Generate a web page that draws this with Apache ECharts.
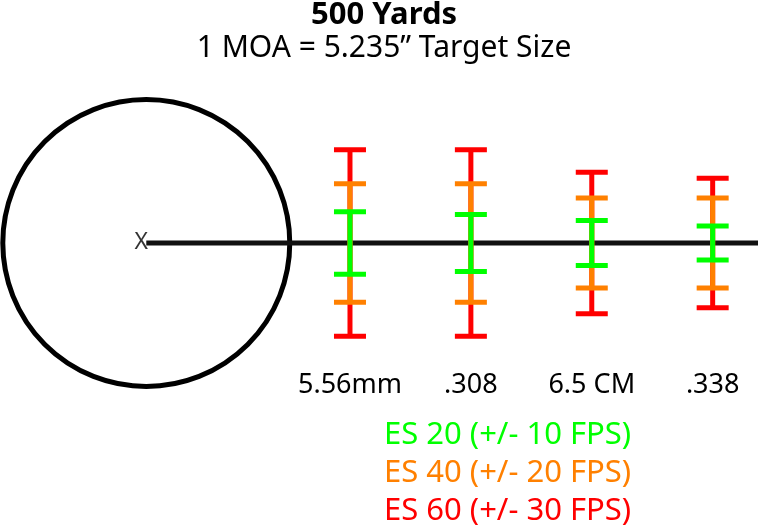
<!DOCTYPE html>
<html>
<head>
<meta charset="utf-8">
<script src="https://cdn.jsdelivr.net/npm/echarts@6/dist/echarts.min.js"></script>
<style>html,body{margin:0;padding:0;background:#fff;}#c{width:768px;height:531px;}</style>
</head>
<body>
<div id="c"></div>
<script>
// ---- data ----
var titleText = '500 Yards';
var subText = '1 MOA = 5.235\u201D Target Size';
var categories = ['5.56mm', '.308', '6.5 CM', '.338'];
var moaInches = 5.235;               // target diameter (1 MOA at 500 yd)
var es20 = [0.57, 0.52, 0.41, 0.31]; // +/- spread, inches
var es40 = [1.08, 1.08, 0.82, 0.82];
var es60 = [1.70, 1.70, 1.29, 1.18];
var seriesNames = ['ES 20 (+/- 10 FPS)', 'ES 40 (+/- 20 FPS)', 'ES 60 (+/- 30 FPS)'];
var colors = ['#00ff00', '#ff8000', '#ff0000'];

// layout constants (axis units)
var targetX = -1.685;   // target centre on the x axis
var xMin = -2, xMax = 3.375;
var FONT = 'Noto Sans';

function errRender(color) {
  return function (params, api) {
    var i = api.value(0), h = api.value(1);
    var t = api.coord([i, h]), b = api.coord([i, -h]);
    var half = 16;
    var st = { stroke: color, lineWidth: 5 };
    return { type: 'group', children: [
      { type: 'line', shape: { x1: t[0], y1: t[1], x2: b[0], y2: b[1] }, style: st },
      { type: 'line', shape: { x1: t[0] - half, y1: t[1], x2: t[0] + half, y2: t[1] }, style: st },
      { type: 'line', shape: { x1: b[0] - half, y1: b[1], x2: b[0] + half, y2: b[1] }, style: st }
    ]};
  };
}
function toData(arr) { return arr.map(function (v, i) { return [i, v]; }); }

var chart = echarts.init(document.getElementById('c'));
chart.setOption({
  animation: false,
  backgroundColor: '#fff',
  title: {
    text: titleText, subtext: subText, left: 'center', top: 0, padding: 0, itemGap: 2,
    textStyle: { fontFamily: FONT, fontSize: 31, fontWeight: 'bold', color: '#000' },
    subtextStyle: { fontFamily: FONT, fontSize: 30, color: '#000' }
  },
  legend: {
    orient: 'vertical', left: 379, top: 420, padding: 0, itemWidth: 0, itemHeight: 0, itemGap: 7,
    selectedMode: false,
    textStyle: { fontFamily: FONT, fontSize: 31 },
    data: seriesNames.map(function (n, i) { return { name: n, icon: 'rect', textStyle: { color: colors[i] } }; })
  },
  grid: { left: 108.2, right: 10, top: 122.4, bottom: 167.4 },
  xAxis: {
    type: 'value', min: xMin, max: xMax, interval: 1,
    axisLine: { show: false }, axisTick: { show: false }, splitLine: { show: false },
    axisLabel: {
      margin: 8, fontFamily: FONT, fontSize: 27, color: '#000',
      formatter: function (v) { return categories[v] || ''; }
    }
  },
  yAxis: {
    type: 'value', min: -2.2, max: 2.2,
    axisLine: { show: false }, axisTick: { show: false }, splitLine: { show: false }, axisLabel: { show: false }
  },
  series: [
    {
      type: 'custom', name: 'target', clip: false, z: 1, silent: true,
      data: [[targetX, 0, moaInches / 2]],
      renderItem: function (params, api) {
        var c = api.coord([api.value(0), api.value(1)]);
        var r = api.size([0, api.value(2)])[1];
        return { type: 'circle', shape: { cx: c[0], cy: c[1], r: r }, style: { fill: 'none', stroke: '#000', lineWidth: 5 } };
      }
    },
    {
      type: 'line', name: 'baseline', z: 2, symbol: 'none', silent: true,
      lineStyle: { color: '#111', width: 5 },
      data: [[targetX, 0], [xMax, 0]]
    },
    {
      type: 'scatter', name: 'centre', z: 3, silent: true, symbol: 'circle', symbolSize: 2,
      itemStyle: { color: 'rgba(0,0,0,0)' },
      data: [[targetX, 0]],
      label: { show: true, position: 'inside', formatter: 'X', offset: [-5, -1],
        fontFamily: FONT, fontSize: 23, color: '#000' }
    },
    { type: 'custom', name: seriesNames[2], z: 4, color: colors[2], renderItem: errRender(colors[2]), data: toData(es60) },
    { type: 'custom', name: seriesNames[1], z: 5, color: colors[1], renderItem: errRender(colors[1]), data: toData(es40) },
    { type: 'custom', name: seriesNames[0], z: 6, color: colors[0], renderItem: errRender(colors[0]), data: toData(es20) }
  ]
});
</script>
</body>
</html>
